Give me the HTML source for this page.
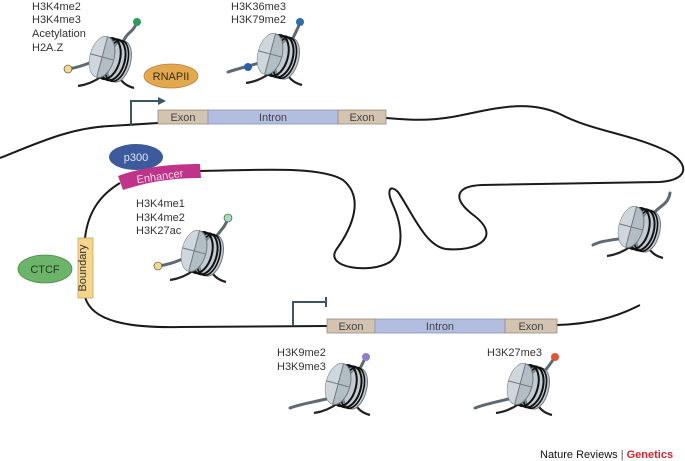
<!DOCTYPE html>
<html><head><meta charset="utf-8"><style>
html,body{margin:0;padding:0;background:#fff;}
svg{display:block;}
text{font-family:"Liberation Sans",sans-serif;}
</style></head><body>
<svg width="685" height="461" viewBox="0 0 685 461" xmlns="http://www.w3.org/2000/svg">
<defs>
<g id="nuc">
  <path d="M-4,18 C-12,24 -20,27 -28,28" stroke="#222" stroke-width="2.2" fill="none"/>
  <path d="M12,18 C16,24 20,28 28,30" stroke="#222" stroke-width="2.2" fill="none"/>
  <g transform="rotate(15)">
    <rect x="-4" y="-21" width="18" height="42" fill="#8d98a1"/>
    <ellipse cx="14" cy="0" rx="11" ry="21" fill="#c2cbd1" stroke="#6d7880" stroke-width="1"/>
    <ellipse cx="2" cy="0" rx="12" ry="21" fill="none" stroke="#111" stroke-width="2"/>
    <ellipse cx="7" cy="0" rx="12" ry="21" fill="none" stroke="#111" stroke-width="2"/>
    <ellipse cx="11" cy="0" rx="11" ry="21" fill="none" stroke="#111" stroke-width="1.6"/>
    <ellipse cx="-4" cy="0" rx="12" ry="21" fill="#b3bdc4" stroke="#6d7880" stroke-width="1"/>
    <path d="M-4,-21 A12,21 0 0,0 -4,21 Z" fill="#cfd7dc"/>
    <line x1="-16" y1="0" x2="8" y2="0" stroke="#6d7880" stroke-width="1"/>
    <line x1="-4" y1="-21" x2="-4" y2="21" stroke="#6d7880" stroke-width="1"/>
  </g>
</g>
</defs>

<g stroke="#1a1a1a" stroke-width="2" fill="none">
  <path d="M0,158 C40,142 70,128 110,126 L158,123"/>
  <path d="M200,171 C260,170 320,166 343,180 C365,198 352,228 336,250 C325,268 370,274 390,262 C405,250 402,225 393,205 C386,190 390,184 398,192 C412,212 425,246 446,249 C475,252 505,238 472,214 C452,198 456,186 482,185 L660,182 C692,180 690,160 660,148 C625,133 590,130 560,114 C525,98 490,110 452,117 C422,122 402,119 386,118"/>
  <path d="M120,183 C100,195 88,212 85,238"/>
  <path d="M85,297 C92,322 130,328 180,327 L327,326"/>
  <path d="M557,325 C590,324 615,318 640,305"/>
</g>

<path d="M131,126 L131,101 L160,101" stroke="#3e5563" stroke-width="2" fill="none"/>
<path d="M158,97 L166,101 L158,105 Z" fill="#3e5563"/>
<path d="M293,326 L293,302 L326,302" stroke="#3e5563" stroke-width="2" fill="none"/>
<line x1="326" y1="297" x2="326" y2="307" stroke="#3e5563" stroke-width="2"/>

<rect x="158" y="110" width="50" height="14" fill="#d3c3b1" stroke="#9a8a7a" stroke-width="0.8"/>
<rect x="208" y="110" width="130" height="14" fill="#b3bde0" stroke="#8d95b8" stroke-width="0.8"/>
<rect x="338" y="110" width="48" height="14" fill="#d3c3b1" stroke="#9a8a7a" stroke-width="0.8"/>
<g font-size="11" fill="#444" text-anchor="middle">
<text x="183" y="121">Exon</text><text x="273" y="121">Intron</text><text x="362" y="121">Exon</text>
</g>
<rect x="327" y="319" width="48" height="14" fill="#d3c3b1" stroke="#9a8a7a" stroke-width="0.8"/>
<rect x="375" y="319" width="130" height="14" fill="#b3bde0" stroke="#8d95b8" stroke-width="0.8"/>
<rect x="505" y="319" width="52" height="14" fill="#d3c3b1" stroke="#9a8a7a" stroke-width="0.8"/>
<g font-size="11" fill="#444" text-anchor="middle">
<text x="351" y="330">Exon</text><text x="440" y="330">Intron</text><text x="531" y="330">Exon</text>
</g>

<ellipse cx="171" cy="76" rx="27" ry="12" fill="#e2a84e" stroke="#b7823a" stroke-width="0.8"/>
<text x="171" y="80" font-size="11" fill="#3a2a10" text-anchor="middle">RNAPII</text>
<ellipse cx="136" cy="157" rx="27" ry="13" fill="#3d5b9c"/>
<text x="136" y="161" font-size="11" fill="#dfe6f5" text-anchor="middle">p300</text>
<path d="M118,176 C145,166 175,164 200,164 L201,178 C175,178 150,181 123,190 Z" fill="#c0338a"/>
<text x="160" y="180" font-size="11" fill="#f5d8ea" text-anchor="middle" transform="rotate(-8 160 177)">Enhancer</text>
<rect x="78" y="238" width="15" height="60" fill="#f6d68e" stroke="#c9a35a" stroke-width="0.8"/>
<text x="89" y="268" font-size="11" fill="#333" text-anchor="middle" transform="rotate(-90 89 268)" dy="-3">Boundary</text>
<ellipse cx="45" cy="269" rx="27" ry="14" fill="#6cb46a" stroke="#4a8a48" stroke-width="0.8"/>
<text x="45" y="273" font-size="11" fill="#1e3d1e" text-anchor="middle">CTCF</text>

<g stroke="#5d6a73" stroke-width="3" fill="none" stroke-linecap="round">
  <path d="M122,45 C127,30 132,35 137,22"/>
  <path d="M92,62 C82,66 76,68 68,69"/>
  <path d="M290,45 C296,30 297,32 300,22"/>
  <path d="M262,62 C250,66 240,68 228,72"/>
  <path d="M214,240 C220,230 225,228 228,218"/>
  <path d="M185,258 C175,262 168,265 158,266"/>
  <path d="M652,215 C660,205 668,205 670,193"/>
  <path d="M625,238 C612,240 600,241 593,245"/>
  <path d="M358,372 C362,365 363,362 366,357"/>
  <path d="M330,398 C315,402 300,404 290,408"/>
  <path d="M541,375 C548,368 550,364 555,357"/>
  <path d="M512,398 C497,402 485,404 475,408"/>
</g>
<use href="#nuc" transform="translate(106,58)"/>
<use href="#nuc" transform="translate(274,55)"/>
<use href="#nuc" transform="translate(198,252)"/>
<use href="#nuc" transform="translate(635,228)"/>
<use href="#nuc" transform="translate(342,385)"/>
<use href="#nuc" transform="translate(524,385)"/>
<circle cx="137" cy="22" r="4" fill="#2e9a5c"/>
<circle cx="68" cy="69" r="4" fill="#f2d98c" stroke="#333" stroke-width="0.6"/>
<circle cx="300" cy="22" r="4" fill="#2f6ea8"/>
<circle cx="248" cy="67" r="4" fill="#2f5ea8"/>
<circle cx="228" cy="218" r="4" fill="#a6dcb6" stroke="#333" stroke-width="0.6"/>
<circle cx="158" cy="266" r="4" fill="#f2d98c" stroke="#333" stroke-width="0.6"/>
<circle cx="366" cy="357" r="4" fill="#8f7ecb"/>
<circle cx="555" cy="357" r="4" fill="#dd5536"/>

<g font-size="11" fill="#333">
<text x="32" y="10">H3K4me2</text>
<text x="32" y="23">H3K4me3</text>
<text x="32" y="37">Acetylation</text>
<text x="32" y="51">H2A.Z</text>
<text x="231" y="10">H3K36me3</text>
<text x="231" y="23">H3K79me2</text>
<text x="136" y="207">H3K4me1</text>
<text x="136" y="221">H3K4me2</text>
<text x="136" y="234">H3K27ac</text>
<text x="277" y="356">H3K9me2</text>
<text x="277" y="370">H3K9me3</text>
<text x="487" y="356">H3K27me3</text>
</g>
<text x="540" y="458" font-size="11" fill="#111">Nature Reviews <tspan fill="#555">|</tspan> <tspan fill="#d0262e" font-weight="bold">Genetics</tspan></text>
</svg>
</body></html>
